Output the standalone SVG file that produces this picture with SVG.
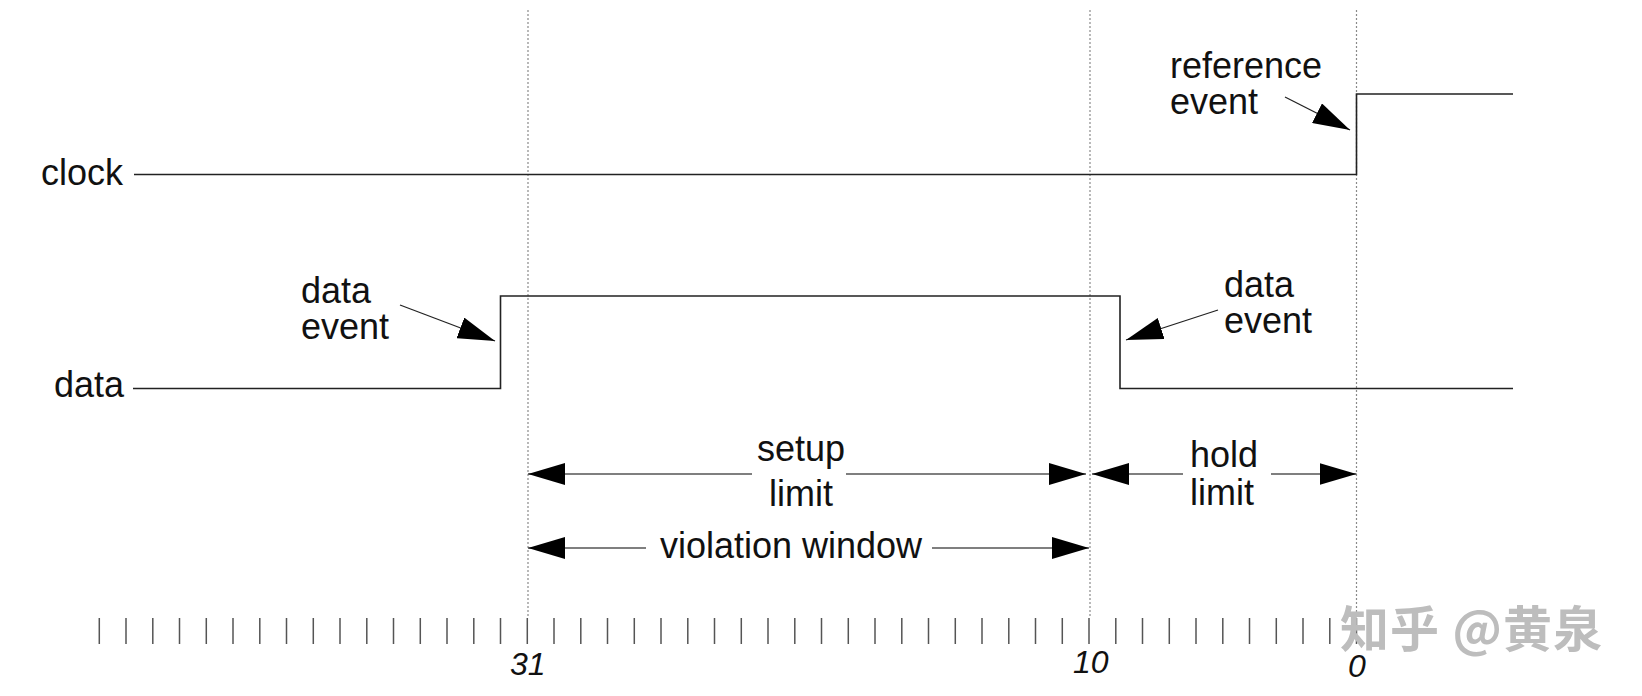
<svg xmlns="http://www.w3.org/2000/svg" width="1642" height="696" viewBox="0 0 1642 696">
<style>
.t{font-family:"Liberation Sans",Arial,sans-serif;font-size:36px;fill:#111}
.n{font-family:"Liberation Sans",Arial,sans-serif;font-size:32px;font-style:italic;fill:#111}
.sig{fill:none;stroke:#222;stroke-width:1.6}
.dot{stroke:#8a8a8a;stroke-width:1.2;stroke-dasharray:2 2}
.dim{stroke:#555;stroke-width:1.4;fill:none}
.ann{stroke:#222;stroke-width:1.3;fill:none}
.tick{stroke:#555;stroke-width:1.5}
.wm{font-family:"Noto Sans CJK SC","Noto Sans",sans-serif;font-size:49px;font-weight:bold;fill:#bdbdbd}
</style>
<defs>
<marker id="ah" viewBox="0 0 37 22" refX="37" refY="11" markerWidth="37" markerHeight="22" markerUnits="userSpaceOnUse" orient="auto">
<path d="M0,0 L37,11 L0,22 z" fill="#000"/>
</marker>
</defs>
<rect width="1642" height="696" fill="#fff"/>
<g id="guides">
<line class="dot" x1="528" y1="10" x2="528" y2="618"/>
<line class="dot" x1="1090" y1="10" x2="1090" y2="618"/>
<line class="dot" x1="1356.5" y1="10" x2="1356.5" y2="618"/>
</g>
<g id="clock">
<text class="t" x="41" y="185">clock</text>
<path class="sig" d="M134,174.5 H1356.5 V94 H1513"/>
</g>
<g id="data">
<text class="t" x="54" y="397">data</text>
<path class="sig" d="M133,388.5 H500.5 V296 H1120 V388.5 H1513"/>
</g>
<g id="reference-event">
<text class="t" x="1170" y="78">reference</text>
<text class="t" x="1170" y="114">event</text>
</g>
<g id="data-event-left">
<text class="t" x="301" y="303">data</text>
<text class="t" x="301" y="339">event</text>
</g>
<g id="data-event-right">
<text class="t" x="1224" y="297">data</text>
<text class="t" x="1224" y="333">event</text>
</g>
<g id="setup-limit">
<text class="t" x="801" y="461" text-anchor="middle">setup</text>
<text class="t" x="801" y="506" text-anchor="middle">limit</text>
</g>
<g id="hold-limit">
<text class="t" x="1224" y="467" text-anchor="middle">hold</text>
<text class="t" x="1222" y="505" text-anchor="middle">limit</text>
</g>
<g id="violation-window">
<text class="t" x="791" y="558" text-anchor="middle">violation window</text>
</g>
<g id="connectors">
<line class="ann" x1="1285" y1="97" x2="1350" y2="130" marker-end="url(#ah)"/>
<line class="ann" x1="400" y1="305" x2="495" y2="341" marker-end="url(#ah)"/>
<line class="ann" x1="1218" y1="310" x2="1126" y2="340" marker-end="url(#ah)"/>
<line class="dim" x1="752" y1="474" x2="528" y2="474" marker-end="url(#ah)"/>
<line class="dim" x1="846" y1="474" x2="1086" y2="474" marker-end="url(#ah)"/>
<line class="dim" x1="1183" y1="474" x2="1092" y2="474" marker-end="url(#ah)"/>
<line class="dim" x1="1271" y1="474" x2="1356.5" y2="474" marker-end="url(#ah)"/>
<line class="dim" x1="646" y1="548" x2="528" y2="548" marker-end="url(#ah)"/>
<line class="dim" x1="932" y1="548" x2="1089" y2="548" marker-end="url(#ah)"/>
</g>
<g id="scale">
<path class="tick" d="M99.3,618V644 M126.0,618V644 M152.8,618V644 M179.5,618V644 M206.3,618V644 M233.0,618V644 M259.8,618V644 M286.5,618V644 M313.3,618V644 M340.0,618V644 M366.8,618V644 M393.5,618V644 M420.3,618V644 M447.0,618V644 M473.8,618V644 M500.5,618V644 M527.3,618V644 M554.0,618V644 M580.8,618V644 M607.5,618V644 M634.3,618V644 M661.0,618V644 M687.8,618V644 M714.5,618V644 M741.3,618V644 M768.0,618V644 M794.8,618V644 M821.5,618V644 M848.3,618V644 M875.0,618V644 M901.8,618V644 M928.5,618V644 M955.3,618V644 M982.0,618V644 M1008.8,618V644 M1035.5,618V644 M1062.3,618V644 M1089.0,618V644 M1115.8,618V644 M1142.5,618V644 M1169.3,618V644 M1196.0,618V644 M1222.8,618V644 M1249.5,618V644 M1276.3,618V644 M1303.0,618V644 M1329.8,618V644 M1356.5,618V644"/>
<text class="n" x="510" y="675">31</text>
<text class="n" x="1073" y="673">10</text>
<text class="n" x="1348" y="677">0</text>
</g>
<g id="watermark">
<text class="wm" x="1340" y="647" textLength="262" lengthAdjust="spacing">知乎 @黄泉</text>
</g>
</svg>
